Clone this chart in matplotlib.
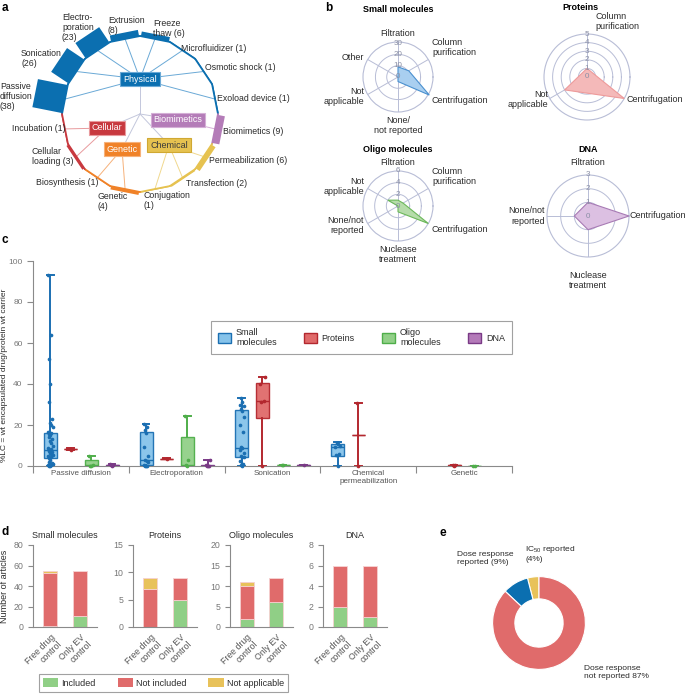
import numpy as np
import matplotlib
matplotlib.use('Agg')
import matplotlib.pyplot as plt
from matplotlib.patches import Polygon, Patch

plt.rcParams['font.family'] = ['Liberation Sans', 'DejaVu Sans']
plt.rcParams['mathtext.fontset'] = 'custom'
plt.rcParams['mathtext.rm'] = 'Liberation Sans'
plt.rcParams['mathtext.it'] = 'Liberation Sans:italic'

# ---------------- data ----------------
# a: loading methods (number of articles)
methods = ['Passive\ndiffusion\n({})', 'Sonication\n({})', 'Electro-\nporation\n({})', 'Extrusion\n({})',
           'Freeze\nthaw ({})', 'Microfluidizer ({})', 'Osmotic shock ({})', 'Exoload device ({})',
           'Biomimetics ({})', 'Permeabilization ({})', 'Transfection ({})', 'Conjugation\n({})',
           'Genetic\n({})', 'Biosynthesis ({})', 'Cellular\nloading ({})', 'Incubation ({})']
method_counts = [38, 26, 23, 8, 6, 1, 1, 1, 9, 6, 2, 1, 4, 1, 3, 1]
method_class = ['Physical'] * 8 + ['Biomimetics'] + ['Chemical'] * 3 + ['Genetic'] * 2 + ['Cellular'] * 2
classes = ['Physical', 'Biomimetics', 'Chemical', 'Genetic', 'Cellular']

# b: purification methods (radar)
sm_cats = ['Filtration', 'Column\npurification', 'Centrifugation', 'None/\nnot reported', 'Not\napplicable', 'Other']
sm_vals = [9, 11, 32, 4, 0, 0]
prot_cats = ['Column\npurification', 'Centrifugation', 'Not\napplicable']
prot_vals = [1, 5, 3]
oligo_cats = ['Filtration', 'Column\npurification', 'Centrifugation', 'Nuclease\ntreatment', 'None/not\nreported', 'Not\napplicable']
oligo_vals = [1, 1, 6, 1, 0, 2]
dna_cats = ['Filtration', 'Centrifugation', 'Nuclease\ntreatment', 'None/not\nreported']
dna_vals = [1, 3, 1, 1]

# c: loading capacity (%LC) per loading method and cargo
lc_groups = ['Passive diffusion', 'Electroporation', 'Sonication', 'Chemical\npermeabilization', 'Genetic']
cargo_names = ['Small\nmolecules', 'Proteins', 'Oligo\nmolecules', 'DNA']
# (min, Q1, median, Q3, max) per group, None = no data
lc_box_small = [(0, 4, 8, 16, 93), (0, 0.3, 3, 16.5, 20.5), (0, 4.5, 9, 27.5, 33), (0, 5, 9.5, 10.5, 11.5), None]
lc_box_prot = [(8, 8.3, 8.5, 8.5, 8.6), (3.3, 3.5, 3.5, 3.6, 3.7), (0, 23.5, 31.5, 40.5, 43.5),
               (0, 15.2, 15.2, 15.2, 30.5), (0, 0.2, 0.3, 0.5, 0.6)]
lc_box_oligo = [(0, 0, 0.5, 2.8, 5), (0, 0, 0.5, 14, 24.5), (0.2, 0.3, 0.3, 0.4, 0.5), None, (0, 0, 0.1, 0.2, 0.2)]
lc_box_dna = [(0, 0, 0.3, 0.5, 0.8), (0, 0, 0, 0.3, 3), (0.2, 0.2, 0.3, 0.3, 0.4), None, None]
lc_pts_small = [[0, 0, 0.3, 0.5, 0.8, 1, 1, 1.5, 2, 3, 4, 4.5, 5, 5.5, 6, 6.5, 7, 7.5, 8, 8,
                 8.5, 9, 10, 11, 12, 13, 14, 15, 15.5, 16, 16.5, 19, 20, 21, 23, 31, 40, 52, 64, 93],
                [0, 0, 0, 0.5, 2, 2.5, 3, 5, 9.5, 16, 17.5, 19, 20.5],
                [0, 0.5, 1, 2.5, 4.5, 4.5, 5, 6.5, 8, 9, 9.5, 16.5, 20, 24, 27, 28, 29.5, 30, 31, 33],
                [0, 5.5, 6, 9.5, 10, 10.5, 11],
                []]
lc_pts_prot = [[8], [3.5], [0, 31, 31.5, 40, 43.5], [0, 30.5], [0, 0.3, 0.5]]
lc_pts_oligo = [[0, 0, 0.5, 5], [0, 0.5, 3, 24.5], [0.3, 0.4], [], [0, 0]]
lc_pts_dna = [[0, 0.3, 0.5, 0.8], [0, 0, 0, 0.3, 3], [0.3], [], []]

# d: controls (number of articles)
ctrl_labels = ['Free drug\ncontrol', 'Only EV\ncontrol']
d_titles = ['Small molecules', 'Proteins', 'Oligo molecules', 'DNA']
d_included = [[1, 11], [0, 5], [2, 6], [2, 1]]
d_not_included = [[52, 44], [7, 4], [8, 6], [4, 5]]
d_not_applicable = [[2, 0], [2, 0], [1, 0], [0, 0]]
d_ymax = [80, 15, 20, 8]
d_ystep = [20, 5, 5, 2]

# e: dose response reporting (%)
dose_labels = ['IC$_{50}$ reported\n(4%)', 'Dose response\nreported (9%)', 'Dose response\nnot reported 87%']
dose_pct = [4, 9, 87]

# ---------------- styles ----------------
class_col = {'Physical': '#0b6fb0', 'Biomimetics': '#b47cb8', 'Chemical': '#e6c250',
             'Genetic': '#f08228', 'Cellular': '#c8393f'}
class_light = {'Physical': '#6aa9d6', 'Biomimetics': '#d4afd6', 'Chemical': '#f0d88e',
               'Genetic': '#f6b17a', 'Cellular': '#e89a9d'}
cargo_face = ['#86c3ea', '#e06a6a', '#92d088', '#b47ab9']
cargo_edge = ['#1b6fb2', '#b3282f', '#4fae4a', '#7a3a86']
TXT = '#2b2b2b'
GRID = '#b8bdd6'

W, H = 685, 695
fig = plt.figure(figsize=(W / 100, H / 100), dpi=100)


def rect(x0, y0, x1, y1):
    return [x0 / W, 1 - y1 / H, (x1 - x0) / W, (y1 - y0) / H]


def ftext(x, y, s, **kw):
    kw.setdefault('color', TXT)
    return fig.text(x / W, 1 - y / H, s, **kw)


for letter, (lx, ly) in zip('abcde', [(2, 2), (325, 2), (2, 234), (2, 526), (440, 527)]):
    ftext(lx, ly, letter, fontsize=8.5, fontweight='bold', va='top', color='black')

# ---------------- panel a ----------------
ax = fig.add_axes(rect(0, 0, 270, 240))
ax.set_xlim(0, 270)
ax.set_ylim(240, 0)
ax.axis('off')

cx, cy, R = 140, 114, 78
n = len(method_counts)
ang = np.deg2rad(168.75 - 22.5 * np.arange(n))
half = np.deg2rad(11.25)
Ra = R * np.cos(half)
class_pos = {'Physical': (140, 79), 'Biomimetics': (178, 120), 'Chemical': (169, 145),
             'Genetic': (122, 149), 'Cellular': (107, 128)}

# hub lines
for c in classes:
    ax.plot([cx, class_pos[c][0]], [cy, class_pos[c][1]], color='#c3c7dc', lw=0.7, zorder=1)

for i in range(n):
    a = ang[i]
    col = class_col[method_class[i]]
    p1 = np.array([cx + R * np.cos(a + half), cy - R * np.sin(a + half)])
    p2 = np.array([cx + R * np.cos(a - half), cy - R * np.sin(a - half)])
    mid = np.array([cx + Ra * np.cos(a), cy - Ra * np.sin(a)])
    # spoke from class label to method
    bx, by = class_pos[method_class[i]]
    ax.plot([bx, mid[0]], [by, mid[1]], color=class_light[method_class[i]], lw=0.7, zorder=1)
    # ring edge
    ax.plot([p1[0], p2[0]], [p1[1], p2[1]], color=col, lw=1.3, zorder=2, solid_capstyle='round')
    # bar outward, thickness ~ count
    t = method_counts[i] * 0.8
    nrm = np.array([np.cos(a), -np.sin(a)])
    e = (p2 - p1) / 2 * 0.94
    corners = [mid - e, mid + e, mid + e + t * nrm, mid - e + t * nrm]
    ax.add_patch(Polygon(corners, closed=True, fc=col, ec='none', zorder=3))

label_xy = [(0, 82), (21, 49), (62, 13), (108, 16), (153, 19), (181, 44), (205, 63), (217, 94),
            (223, 127), (209, 156), (186, 179), (144, 191), (98, 192), (36, 178), (32, 147), (12, 124)]
for i in range(n):
    ax.text(label_xy[i][0], label_xy[i][1], methods[i].format(method_counts[i]), fontsize=6.3,
            color=TXT, ha='left', va='top', linespacing=1.15)

for c in classes:
    fc = class_col[c]
    tc = '#3a3a3a' if c == 'Chemical' else 'white'
    ax.text(class_pos[c][0], class_pos[c][1], c, fontsize=6.5, color=tc, ha='center', va='center', zorder=5,
            bbox=dict(boxstyle='square,pad=0.3', fc=fc, ec=class_light[c] if c != 'Chemical' else '#d0a832', lw=0.8))


# ---------------- panel b ----------------
def radar(cxp, cyp, r, cats, vals, rmax, rticks, face, edge, kpad=1.12, align=None):
    pax = fig.add_axes(rect(cxp - r, cyp - r, cxp + r, cyp + r), projection='polar')
    k = len(cats)
    th = np.deg2rad(90 - 360 / k * np.arange(k))
    pax.set_ylim(0, rmax)
    pax.set_xticks([])
    pax.set_yticks([])
    pax.grid(False)
    pax.spines['polar'].set_color(GRID)
    pax.spines['polar'].set_linewidth(0.8)
    circ = np.linspace(0, 2 * np.pi, 200)
    for tk in rticks[1:-1]:
        pax.plot(circ, np.full_like(circ, tk), color=GRID, lw=0.7)
    for a in th:
        pax.plot([a, a], [0, rmax], color=GRID, lw=0.7)
    pax.fill(np.r_[th, th[0]], list(vals) + [vals[0]], fc=face, ec=edge, lw=0.8, zorder=3, clip_on=False)
    for tk in rticks:
        pax.text(np.pi / 2, tk, str(tk), fontsize=5.8, color='#8a8fa5', ha='center', va='center', zorder=4)
    for j, a in enumerate(th):
        c, s = np.cos(a), np.sin(a)
        ha = 'left' if c > 0.2 else ('right' if c < -0.2 else 'center')
        va = 'bottom' if s > 0.6 else ('top' if s < -0.6 else 'center')
        kp, shift = kpad, 0.0
        if align and align[j]:
            ha, va, kp = align[j][:3]
            if len(align[j]) > 3:
                shift = np.deg2rad(align[j][3])
        pax.text(a + shift, rmax * kp, cats[j], fontsize=6.5, color=TXT, ha=ha, va=va, linespacing=1.15,
                 clip_on=False)
    return pax


radar(398, 77, 35, sm_cats, sm_vals, 31, [0, 10, 20, 30], '#a9cff0', '#4a90cf',
      align=[None, ('left', 'bottom', 1.12), ('left', 'top', 1.1), None, None, None])
radar(587, 77, 43, prot_cats, prot_vals, 5, [0, 1, 2, 3, 4, 5], '#f4b9b9', '#ee9a9a',
      align=[('left', 'bottom', 1.08, -10), ('left', 'center', 1.05), ('right', 'center', 1.05)])
radar(398, 206, 35, oligo_cats, oligo_vals, 6, [0, 2, 4, 6], '#b6dcaa', '#6cb85a',
      align=[None, ('left', 'bottom', 1.12), ('left', 'top', 1.1), None, None, None])
radar(588, 216, 41, dna_cats, dna_vals, 3, [0, 1, 2, 3], '#dcc0e2', '#a87bb5',
      align=[('center', 'bottom', 1.2), ('left', 'center', 1.02), ('center', 'top', 1.35),
             ('right', 'center', 1.05)])

ftext(398, 9, 'Small molecules', fontsize=6.5, fontweight='bold', ha='center', va='center', color='black')
ftext(580, 7, 'Proteins', fontsize=6.5, fontweight='bold', ha='center', va='center', color='black')
ftext(398, 150, 'Oligo molecules', fontsize=6.5, fontweight='bold', ha='center', va='center', color='black')
ftext(588, 150, 'DNA', fontsize=6.5, fontweight='bold', ha='center', va='center', color='black')

# ---------------- panel c ----------------
axc = fig.add_axes(rect(33, 261, 512, 466))
axc.patch.set_alpha(0)
offsets = [-0.32, -0.105, 0.11, 0.325]
all_box = [lc_box_small, lc_box_prot, lc_box_oligo, lc_box_dna]
all_pts = [lc_pts_small, lc_pts_prot, lc_pts_oligo, lc_pts_dna]
jit = np.array([0, -1, 1, -2, 2, 0.5, -0.5, 1.5, -1.5]) * 0.012
for k in range(4):
    stats, pos = [], []
    for g in range(len(lc_groups)):
        b = all_box[k][g]
        if b is None:
            continue
        stats.append(dict(whislo=b[0], q1=b[1], med=b[2], q3=b[3], whishi=b[4], fliers=[]))
        pos.append(g + 0.5 + offsets[k])
    axc.bxp(stats, positions=pos, widths=0.135, capwidths=0.07, patch_artist=True, showfliers=False,
            boxprops=dict(facecolor=cargo_face[k], edgecolor=cargo_edge[k], lw=1.0, alpha=0.95),
            medianprops=dict(color=cargo_edge[k], lw=1.0),
            whiskerprops=dict(color=cargo_edge[k], lw=1.4),
            capprops=dict(color=cargo_edge[k], lw=1.4))
    for g in range(len(lc_groups)):
        p = all_pts[k][g]
        if not p:
            continue
        xs = g + 0.5 + offsets[k] + jit[np.arange(len(p)) % len(jit)]
        axc.scatter(xs, p, s=7, color=cargo_edge[k], zorder=4, clip_on=False, lw=0)

axc.set_xlim(0, 5)
axc.set_ylim(0, 100)
axc.set_yticks(np.arange(0, 101, 20))
axc.set_xticks(np.arange(0, 6))
axc.set_xticklabels([])
axc.set_xticks(np.arange(5) + 0.5, minor=True)
axc.set_xticklabels(lc_groups, minor=True, fontsize=5.8, color='#555555', linespacing=1.1)
axc.tick_params(axis='x', which='minor', length=0, pad=3)
axc.tick_params(axis='x', which='major', length=5, color='#8a8a8a', width=0.8)
axc.tick_params(axis='y', labelsize=6, labelcolor='#777777', color='#8a8a8a', length=4, width=0.8)
for s in ['top', 'right']:
    axc.spines[s].set_visible(False)
for s in ['left', 'bottom']:
    axc.spines[s].set_color('#8a8a8a')
    axc.spines[s].set_linewidth(0.8)
axc.set_ylabel('%LC = wt encapsulated drug/protein wt carrier', fontsize=6, color=TXT)
axc.yaxis.set_label_coords(-0.052, 0.44)
handles = [Patch(fc=cargo_face[k], ec=cargo_edge[k], lw=1.0) for k in range(4)]
leg = axc.legend(handles, cargo_names, loc='upper right', bbox_to_anchor=(1.0, 0.707), ncol=4, fontsize=6.5,
                 frameon=True, fancybox=False, edgecolor='#8a8a8a', handlelength=1.5, handleheight=1.3,
                 columnspacing=3.0, borderpad=0.8, handletextpad=0.5, labelspacing=0.2, borderaxespad=0)
leg.get_frame().set_linewidth(0.8)
for t in leg.get_texts():
    t.set_color(TXT)
    t.set_linespacing(1.1)

# ---------------- panel d ----------------
d_cols = ['#90cf86', '#e06b6b', '#e8c25a']
d_rects = [(33, 97), (133, 197), (230, 293), (323, 387)]
for i in range(4):
    axd = fig.add_axes(rect(d_rects[i][0], 545, d_rects[i][1], 627))
    x = np.arange(2)
    inc = np.array(d_included[i])
    ninc = np.array(d_not_included[i])
    na = np.array(d_not_applicable[i])
    kw = dict(width=0.47, edgecolor='#f6d0d0', linewidth=0.6)
    axd.bar(x, inc, color=d_cols[0], **kw)
    axd.bar(x, ninc, bottom=inc, color=d_cols[1], **kw)
    axd.bar(x, na, bottom=inc + ninc, color=d_cols[2], **kw)
    axd.set_xlim(-0.57, 1.56)
    axd.set_ylim(0, d_ymax[i])
    axd.set_yticks(np.arange(0, d_ymax[i] + 1, d_ystep[i]))
    axd.set_xticks(x)
    axd.set_xticklabels(ctrl_labels, rotation=45, ha='right', rotation_mode='anchor', fontsize=6.3,
                        color='#555555', linespacing=1.1)
    axd.tick_params(axis='y', labelsize=6.3, labelcolor='#777777', color='#8a8a8a', length=3.5, width=0.8)
    axd.tick_params(axis='x', length=0, pad=4)
    for s in ['top', 'right']:
        axd.spines[s].set_visible(False)
    for s in ['left', 'bottom']:
        axd.spines[s].set_color('#8a8a8a')
        axd.spines[s].set_linewidth(0.8)
    axd.set_title(d_titles[i], fontsize=6.5, color=TXT, pad=5)
    if i == 0:
        axd.set_ylabel('Number of articles', fontsize=6.5, color=TXT)
        axd.yaxis.set_label_coords(-0.38, 0.5)

d_handles = [Patch(fc=c, ec='none') for c in d_cols]
dleg = fig.legend(d_handles, ['Included', 'Not included', 'Not applicable'], loc='center',
                  bbox_to_anchor=((35 + 292) / 2 / W, 1 - 683 / H), ncol=3, fontsize=6.5, frameon=True,
                  fancybox=False, edgecolor='#8a8a8a', handlelength=1.7, handleheight=1.1,
                  columnspacing=2.4, borderpad=0.5, handletextpad=0.35, borderaxespad=0)
dleg.get_frame().set_linewidth(0.8)
for t in dleg.get_texts():
    t.set_color(TXT)

# ---------------- panel e ----------------
axe = fig.add_axes(rect(481, 565, 597, 681))
axe.pie(dose_pct, colors=['#e8c25a', '#0b6fb0', '#e06b6b'], startangle=90, counterclock=True,
        wedgeprops=dict(width=0.48, edgecolor='white', linewidth=0.8))
axe.set_aspect('equal')
ftext(525, 544, dose_labels[0], fontsize=6, ha='left', va='top', linespacing=1.15)
ftext(457, 551, dose_labels[1], fontsize=6, ha='left', va='top', linespacing=1.15)
ftext(584, 665, dose_labels[2], fontsize=6, ha='left', va='top', linespacing=1.15)

fig.savefig('out.png', dpi=100)
